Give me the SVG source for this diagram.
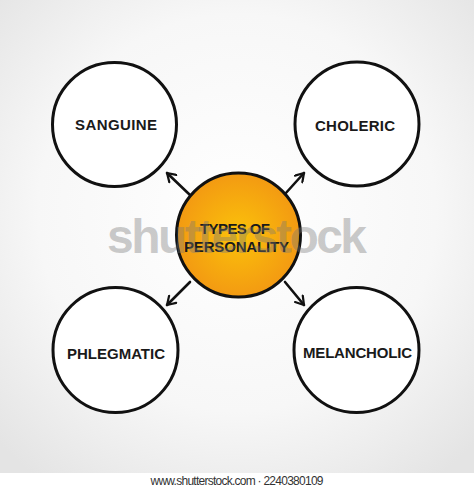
<svg xmlns="http://www.w3.org/2000/svg" width="474" height="489" viewBox="0 0 474 489">
<defs>
<radialGradient id="bg" cx="50%" cy="45%" r="70%">
<stop offset="0" stop-color="#ffffff"/>
<stop offset="0.6" stop-color="#f7f7f7"/>
<stop offset="1" stop-color="#e4e4e4"/>
</radialGradient>
<radialGradient id="core" cx="50%" cy="50%" r="50%">
<stop offset="0" stop-color="#fbc20a"/>
<stop offset="1" stop-color="#f39a12"/>
</radialGradient>
<marker id="ah" viewBox="0 0 12 12" refX="10" refY="6" markerWidth="12" markerHeight="12" markerUnits="userSpaceOnUse" orient="auto">
<path d="M2,1 L10,6 L2,11" fill="none" stroke="#111" stroke-width="2.2" stroke-linecap="round" stroke-linejoin="round"/>
</marker>
<style>
.ring{fill:#fff;stroke:#111;stroke-width:3}
.lbl{font-family:"Liberation Sans",Arial,sans-serif;font-weight:bold;font-size:15px;fill:#1a1a1a;text-anchor:middle;dominant-baseline:central}
.con{stroke:#111;stroke-width:2.6;fill:none;stroke-linecap:round;marker-end:url(#ah)}
</style>
</defs>
<rect x="0" y="0" width="474" height="473" fill="url(#bg)"/>
<rect x="0" y="473" width="474" height="16" fill="#fff"/>
<g id="connectors">
<line class="con" x1="190" y1="195" x2="167" y2="173"/>
<line class="con" x1="285" y1="194" x2="304" y2="173"/>
<line class="con" x1="190" y1="282" x2="167" y2="305"/>
<line class="con" x1="285" y1="282" x2="304" y2="305"/>
</g>
<g id="sanguine">
<circle class="ring" cx="114.5" cy="124.5" r="62"/>
<text class="lbl" x="116" y="124" textLength="82">SANGUINE</text>
</g>
<g id="choleric">
<circle class="ring" cx="357" cy="124" r="62"/>
<text class="lbl" x="355" y="125" textLength="80">CHOLERIC</text>
</g>
<g id="phlegmatic">
<circle class="ring" cx="115.5" cy="350" r="62.5"/>
<text class="lbl" x="116" y="353" textLength="98">PHLEGMATIC</text>
</g>
<g id="melancholic">
<circle class="ring" cx="356.5" cy="350" r="62.5"/>
<text class="lbl" x="357.5" y="352" textLength="109">MELANCHOLIC</text>
</g>
<g id="types">
<circle cx="238.5" cy="235" r="62" fill="url(#core)" stroke="#111" stroke-width="3"/>
<text class="lbl" x="235" y="228" textLength="70">TYPES OF</text>
<text class="lbl" x="236.5" y="246" textLength="105">PERSONALITY</text>
</g>
<text x="237" y="253" font-family="'Liberation Sans',Arial,sans-serif" font-weight="bold" font-size="48" fill="#777" fill-opacity="0.38" text-anchor="middle" textLength="260">shutterstock</text>
<text x="237" y="485" font-family="'Liberation Sans',Arial,sans-serif" font-size="12" fill="#333" text-anchor="middle" textLength="173">www.shutterstock.com · 2240380109</text>
</svg>
